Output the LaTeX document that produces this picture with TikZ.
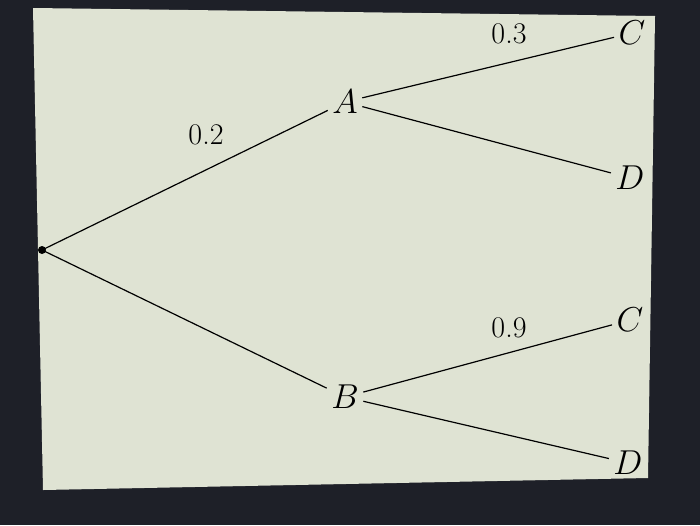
\documentclass[tikz,border=0pt]{standalone}
\usepackage{tikz}
\tikzset{every picture/.style={line width=0.6pt}}
\tikzset{
    leaf/.style={inner sep=2pt, font=\fontsize{16}{18}\selectfont},
    prob/.style={font=\fontsize{15}{17}\selectfont}
}
\definecolor{screen}{RGB}{30,32,40}
\definecolor{paper}{RGB}{223,227,211}

\begin{document}
\begin{tikzpicture}[x=0.5pt,y=0.5pt,yscale=-1,xscale=1]
    \fill[screen] (0,0) rectangle (700,525);
    \fill[paper] (33,8) -- (655,16) -- (648,478) -- (43,490) -- cycle;
    \coordinate (root) at (42,250);
    \fill (root) circle (2pt);
    \draw (345,102) node [leaf] (A) {$A$};
    \draw (345,397) node [leaf] (B) {$B$};
    \draw (632,33) node [leaf] (C1) {$C$};
    \draw (630,178) node [leaf] (D1) {$D$};
    \draw (630,320) node [leaf] (C2) {$C$};
    \draw (628,463) node [leaf] (D2) {$D$};
    \draw (root) -- (A);
    \draw (root) -- (B);
    \draw (A) -- (C1);
    \draw (A) -- (D1);
    \draw (B) -- (C2);
    \draw (B) -- (D2);
    \draw (206,135) node [prob] (pA) {0.2};
    \draw (509,34) node [prob] (pAC) {0.3};
    \draw (509,328) node [prob] (pBC) {0.9};
\end{tikzpicture}
\end{document}
